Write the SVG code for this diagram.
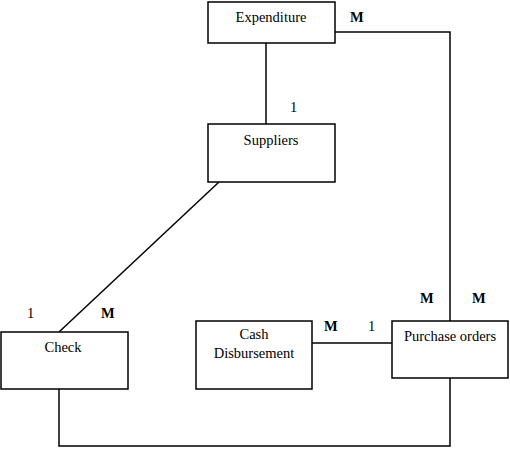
<svg xmlns="http://www.w3.org/2000/svg" width="510" height="449" viewBox="0 0 510 449" font-family="'Liberation Serif', Tinos, 'Times New Roman', 'DejaVu Serif', serif" font-size="14.5">
<style>
.box{fill:#fff;stroke:#000;stroke-width:1.5}
.ln{fill:none;stroke:#000;stroke-width:1.5}
text{font-family:'Liberation Serif', Tinos, 'Times New Roman', 'DejaVu Serif', serif;font-size:14.5px;fill:#000}
.c{text-anchor:middle}
.b{font-weight:bold}
</style>
<rect width="510" height="449" fill="#fff"/>
<g id="connectors">
<line class="ln" x1="266" y1="43" x2="266" y2="124"/>
<line class="ln" x1="219" y1="182" x2="59" y2="332"/>
<polyline class="ln" points="335,32 450,32 450,321"/>
<line class="ln" x1="312" y1="343" x2="392" y2="343"/>
<polyline class="ln" points="59,389 59,446 450,446 450,378"/>
</g>
<g id="labels">
<text class="b" x="350" y="22">M</text>
<text x="290" y="112">1</text>
<text x="27" y="318">1</text>
<text class="b" x="101" y="318">M</text>
<text class="b" x="420" y="303">M</text>
<text class="b" x="472" y="303">M</text>
<text class="b" x="324" y="331">M</text>
<text x="368" y="331">1</text>
</g>
<g id="expenditure">
<rect class="box" x="208" y="2" width="127" height="41"/>
<text class="c" x="271" y="22">Expenditure</text>
</g>
<g id="suppliers">
<rect class="box" x="208" y="124" width="127" height="58"/>
<text class="c" x="271" y="145">Suppliers</text>
</g>
<g id="check">
<rect class="box" x="1" y="332" width="127" height="57"/>
<text class="c" x="63" y="352">Check</text>
</g>
<g id="cash-disbursement">
<rect class="box" x="196" y="321" width="116" height="68"/>
<text class="c" x="254" y="339">Cash</text>
<text class="c" x="254" y="358">Disbursement</text>
</g>
<g id="purchase-orders">
<rect class="box" x="392" y="321" width="116" height="57"/>
<text class="c" x="450" y="341">Purchase orders</text>
</g>
</svg>
